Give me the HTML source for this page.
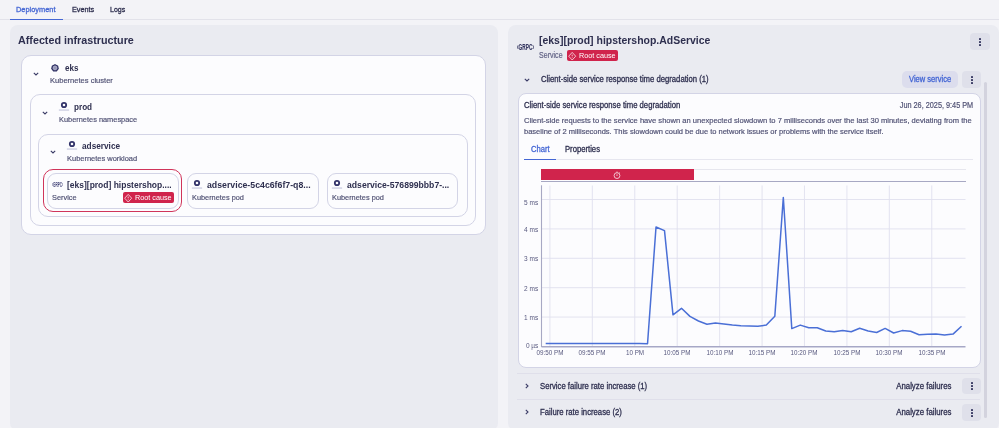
<!DOCTYPE html>
<html><head><meta charset="utf-8"><style>
html,body{margin:0;padding:0;}
body{width:999px;height:428px;overflow:hidden;position:relative;background:#f3f3f7;font-family:"Liberation Sans", sans-serif;-webkit-font-smoothing:antialiased;}
#root{position:absolute;left:0;top:0;width:999px;height:428px;will-change:transform;}
</style></head><body><div id="root">
<div style="position:absolute;top:5.70px;font-size:7.558px;line-height:7.558px;color:#4466d4;font-weight:400;white-space:nowrap;-webkit-text-stroke:0.3px #4466d4;left:16px;transform:scaleX(0.9794256109922287);transform-origin:left center;">Deployment</div>
<div style="position:absolute;top:5.70px;font-size:7.558px;line-height:7.558px;color:#2e2f4f;font-weight:400;white-space:nowrap;-webkit-text-stroke:0.3px #2e2f4f;left:72px;transform:scaleX(0.9650901485308109);transform-origin:left center;">Events</div>
<div style="position:absolute;top:5.70px;font-size:7.558px;line-height:7.558px;color:#2e2f4f;font-weight:400;white-space:nowrap;-webkit-text-stroke:0.3px #2e2f4f;left:110px;transform:scaleX(0.9273645296989917);transform-origin:left center;">Logs</div>
<div style="position:absolute;left:0px;top:19px;width:999px;height:1px;background:#e2e2ea"></div>
<div style="position:absolute;left:9.5px;top:19px;width:53.7px;height:1.3px;background:#4466d4"></div>
<div style="position:absolute;left:9.5px;top:25px;width:488.9px;height:406px;background:#eaebf1;border-radius:8px"></div>
<div style="position:absolute;top:35.05px;font-size:11.047px;line-height:11.047px;color:#2e2f4f;font-weight:700;white-space:nowrap;left:18px;transform:scaleX(0.9741377403154798);transform-origin:left center;">Affected infrastructure</div>
<div style="position:absolute;left:21.1px;top:55.4px;width:465.4px;height:179.2px;box-sizing:border-box;background:#fcfcfe;border:1px solid #d3d4e6;border-radius:10px"></div>
<svg style="position:absolute;left:33px;top:71.5px" width="6" height="4" viewBox="0 0 6 4"><path d="M0.8 0.8 L3 3 L5.2 0.8" fill="none" stroke="#3a3b66" stroke-width="1.1"/></svg>
<svg style="position:absolute;left:50.45px;top:62.900000000000006px" width="10" height="10" viewBox="0 0 10 10"><polygon points="5.00,1.75 7.54,2.97 8.17,5.72 6.41,7.93 3.59,7.93 1.83,5.72 2.46,2.97" fill="#a4a5c2" stroke="#2d2e62" stroke-width="1.3" stroke-linejoin="round"/><circle cx="5" cy="5" r="0.9" fill="#8f90b2"/></svg>
<div style="position:absolute;top:64.12px;font-size:8.721px;line-height:8.721px;color:#2e2f4f;font-weight:700;white-space:nowrap;left:65px;transform:scaleX(0.920855261104348);transform-origin:left center;">eks</div>
<div style="position:absolute;top:76.98px;font-size:7.703px;line-height:7.703px;color:#4f5073;font-weight:400;white-space:nowrap;-webkit-text-stroke:0.18px #4f5073;left:50px;transform:scaleX(0.9808279993310325);transform-origin:left center;">Kubernetes cluster</div>
<div style="position:absolute;left:30.3px;top:94.4px;width:446.2px;height:131.6px;box-sizing:border-box;background:#fcfcfe;border:1px solid #d3d4e6;border-radius:10px"></div>
<svg style="position:absolute;left:41.5px;top:110.5px" width="6" height="4" viewBox="0 0 6 4"><path d="M0.8 0.8 L3 3 L5.2 0.8" fill="none" stroke="#3a3b66" stroke-width="1.1"/></svg>
<svg style="position:absolute;left:57.9px;top:100.7px" width="12" height="10" viewBox="0 0 12 10"><circle cx="6" cy="4" r="2.2" fill="none" stroke="#33346a" stroke-width="1.8"/><rect x="0.85" y="8.4" width="10.3" height="1.3" fill="#cbcce0"/></svg>
<div style="position:absolute;top:102.52px;font-size:8.721px;line-height:8.721px;color:#2e2f4f;font-weight:700;white-space:nowrap;left:73.5px;transform:scaleX(0.9341716482640597);transform-origin:left center;">prod</div>
<div style="position:absolute;top:115.98px;font-size:7.703px;line-height:7.703px;color:#4f5073;font-weight:400;white-space:nowrap;-webkit-text-stroke:0.18px #4f5073;left:58.5px;transform:scaleX(0.9622936250976889);transform-origin:left center;">Kubernetes namespace</div>
<div style="position:absolute;left:38.4px;top:133.8px;width:429.20000000000005px;height:83.6px;box-sizing:border-box;background:#fcfcfe;border:1px solid #d3d4e6;border-radius:10px"></div>
<svg style="position:absolute;left:50px;top:150px" width="6" height="4" viewBox="0 0 6 4"><path d="M0.8 0.8 L3 3 L5.2 0.8" fill="none" stroke="#3a3b66" stroke-width="1.1"/></svg>
<svg style="position:absolute;left:66.1px;top:139.8px" width="12" height="10" viewBox="0 0 12 10"><circle cx="6" cy="4" r="2.2" fill="none" stroke="#33346a" stroke-width="1.8"/><rect x="0.85" y="8.4" width="10.3" height="1.3" fill="#cbcce0"/></svg>
<div style="position:absolute;top:142.32px;font-size:8.721px;line-height:8.721px;color:#2e2f4f;font-weight:700;white-space:nowrap;left:81.7px;transform:scaleX(0.9466842728965632);transform-origin:left center;">adservice</div>
<div style="position:absolute;top:154.98px;font-size:7.703px;line-height:7.703px;color:#4f5073;font-weight:400;white-space:nowrap;-webkit-text-stroke:0.18px #4f5073;left:67px;transform:scaleX(0.971388098693759);transform-origin:left center;">Kubernetes workload</div>
<div style="position:absolute;left:43px;top:169px;width:139.3px;height:43.4px;box-sizing:border-box;border:1.7px solid #d0345a;border-radius:10px"></div>
<div style="position:absolute;left:46.6px;top:172.7px;width:132.4px;height:36.20000000000002px;box-sizing:border-box;background:#fcfcfe;border:1px solid #d3d4e6;border-radius:9px"></div>
<svg style="position:absolute;left:51.8px;top:180.9px;overflow:visible" width="11.1" height="6.9" viewBox="0 0 11.1 6.9"><text x="0" y="5.9" font-family="Liberation Sans" font-weight="700" font-size="6.62" fill="#45467a" stroke="#45467a" stroke-width="0" textLength="11.1" lengthAdjust="spacingAndGlyphs">&#8249;GRPC&#8250;</text></svg>
<div style="position:absolute;top:181.12px;font-size:8.721px;line-height:8.721px;color:#2e2f4f;font-weight:700;white-space:nowrap;left:67px;transform:scaleX(0.9733694798449415);transform-origin:left center;">[eks][prod] hipstershop....</div>
<div style="position:absolute;top:193.98px;font-size:7.703px;line-height:7.703px;color:#4f5073;font-weight:400;white-space:nowrap;-webkit-text-stroke:0.18px #4f5073;left:51.8px;transform:scaleX(0.9576633868901477);transform-origin:left center;">Service</div>
<div style="position:absolute;left:123px;top:192.2px;width:51px;height:10.7px;background:#d0244c;border-radius:2px"></div>
<svg style="position:absolute;left:124.2px;top:193.7px" width="9" height="9" viewBox="0 0 9 9"><path d="M4.2 0.4 L7.7 4.2 L4.2 8.0 L0.7 4.2 Z" fill="none" stroke="#fbe9ee" stroke-width="0.8"/><path d="M4.2 2.6 V4.4" stroke="#fbe9ee" stroke-width="0.8"/><circle cx="4.2" cy="5.4" r="0.45" fill="#fbe9ee"/></svg>
<div style="position:absolute;top:194.77px;font-size:7.122px;line-height:7.122px;color:#ffffff;font-weight:400;white-space:nowrap;left:135px;transform:scaleX(1.0186585139074935);transform-origin:left center;">Root cause</div>
<div style="position:absolute;left:187px;top:172.9px;width:131.5px;height:35.69999999999999px;box-sizing:border-box;background:#fcfcfe;border:1px solid #d3d4e6;border-radius:9px"></div>
<svg style="position:absolute;left:191.05px;top:178.9px" width="12" height="10" viewBox="0 0 12 10"><circle cx="6" cy="4" r="2.2" fill="none" stroke="#33346a" stroke-width="1.8"/><rect x="0.85" y="8.4" width="10.3" height="1.3" fill="#cbcce0"/></svg>
<div style="position:absolute;top:180.82px;font-size:8.721px;line-height:8.721px;color:#2e2f4f;font-weight:700;white-space:nowrap;left:207px;transform:scaleX(1.003293612566366);transform-origin:left center;">adservice-5c4c6f6f7-q8...</div>
<div style="position:absolute;top:193.88px;font-size:7.703px;line-height:7.703px;color:#4f5073;font-weight:400;white-space:nowrap;-webkit-text-stroke:0.18px #4f5073;left:192px;transform:scaleX(0.9559692758994005);transform-origin:left center;">Kubernetes pod</div>
<div style="position:absolute;left:327px;top:172.9px;width:131.39999999999998px;height:35.69999999999999px;box-sizing:border-box;background:#fcfcfe;border:1px solid #d3d4e6;border-radius:9px"></div>
<svg style="position:absolute;left:331.05px;top:178.9px" width="12" height="10" viewBox="0 0 12 10"><circle cx="6" cy="4" r="2.2" fill="none" stroke="#33346a" stroke-width="1.8"/><rect x="0.85" y="8.4" width="10.3" height="1.3" fill="#cbcce0"/></svg>
<div style="position:absolute;top:180.82px;font-size:8.721px;line-height:8.721px;color:#2e2f4f;font-weight:700;white-space:nowrap;left:347px;transform:scaleX(0.9907563180468492);transform-origin:left center;">adservice-576899bbb7-...</div>
<div style="position:absolute;top:193.88px;font-size:7.703px;line-height:7.703px;color:#4f5073;font-weight:400;white-space:nowrap;-webkit-text-stroke:0.18px #4f5073;left:332px;transform:scaleX(0.9559692758994005);transform-origin:left center;">Kubernetes pod</div>
<div style="position:absolute;left:508.4px;top:25px;width:490.2px;height:406px;background:#eaebf1;border-radius:8px"></div>
<svg style="position:absolute;left:516.8px;top:41.7px;overflow:visible" width="17" height="8.5" viewBox="0 0 17 8.5"><text x="0" y="7.5" font-family="Liberation Sans" font-weight="700" font-size="8.78" fill="#34355f" stroke="#34355f" stroke-width="0.15" textLength="17" lengthAdjust="spacingAndGlyphs">&#8249;GRPC&#8250;</text></svg>
<div style="position:absolute;top:35.20px;font-size:10.756px;line-height:10.756px;color:#2e2f4f;font-weight:700;white-space:nowrap;left:538.5px;transform:scaleX(0.9727112299603005);transform-origin:left center;">[eks][prod] hipstershop.AdService</div>
<div style="position:absolute;top:51.61px;font-size:8.140px;line-height:8.140px;color:#626386;font-weight:400;white-space:nowrap;-webkit-text-stroke:0.18px #626386;left:538.5px;transform:scaleX(0.869516089084057);transform-origin:left center;">Service</div>
<div style="position:absolute;left:566.8px;top:50.1px;width:51px;height:10.7px;background:#d0244c;border-radius:2px"></div>
<svg style="position:absolute;left:568.0px;top:51.6px" width="9" height="9" viewBox="0 0 9 9"><path d="M4.2 0.4 L7.7 4.2 L4.2 8.0 L0.7 4.2 Z" fill="none" stroke="#fbe9ee" stroke-width="0.8"/><path d="M4.2 2.6 V4.4" stroke="#fbe9ee" stroke-width="0.8"/><circle cx="4.2" cy="5.4" r="0.45" fill="#fbe9ee"/></svg>
<div style="position:absolute;top:52.67px;font-size:7.122px;line-height:7.122px;color:#ffffff;font-weight:400;white-space:nowrap;left:578.8px;transform:scaleX(1.0186585139074935);transform-origin:left center;">Root cause</div>
<div style="position:absolute;left:970.3px;top:33px;width:19.5px;height:17px;background:#dfe0ea;border-radius:4px"></div>
<div style="position:absolute;left:978.95px;top:37.95px;width:1.6px;height:1.6px;background:#33345f;border-radius:0.4px"></div>
<div style="position:absolute;left:978.95px;top:40.95px;width:1.6px;height:1.6px;background:#33345f;border-radius:0.4px"></div>
<div style="position:absolute;left:978.95px;top:43.95px;width:1.6px;height:1.6px;background:#33345f;border-radius:0.4px"></div>
<svg style="position:absolute;left:523.5px;top:77.8px" width="6" height="4" viewBox="0 0 6 4"><path d="M0.8 0.8 L3 3 L5.2 0.8" fill="none" stroke="#3a3b66" stroke-width="1.1"/></svg>
<div style="position:absolute;top:76.49px;font-size:8.285px;line-height:8.285px;color:#2e2f4f;font-weight:400;white-space:nowrap;-webkit-text-stroke:0.3px #2e2f4f;left:540.6px;transform:scaleX(0.9306856251670165);transform-origin:left center;">Client-side service response time degradation (1)</div>
<div style="position:absolute;left:902px;top:70.8px;width:56px;height:17.3px;background:#dcdded;border-radius:5px"></div>
<div style="position:absolute;top:75.69px;font-size:8.285px;line-height:8.285px;color:#4466d4;font-weight:400;white-space:nowrap;-webkit-text-stroke:0.3px #4466d4;left:908.8px;transform:scaleX(0.91041220500353);transform-origin:left center;">View service</div>
<div style="position:absolute;left:962px;top:71.3px;width:19px;height:16.8px;background:#dfe0ea;border-radius:4px"></div>
<div style="position:absolute;left:970.95px;top:75.95px;width:1.6px;height:1.6px;background:#33345f;border-radius:0.4px"></div>
<div style="position:absolute;left:970.95px;top:78.95px;width:1.6px;height:1.6px;background:#33345f;border-radius:0.4px"></div>
<div style="position:absolute;left:970.95px;top:81.95px;width:1.6px;height:1.6px;background:#33345f;border-radius:0.4px"></div>
<div style="position:absolute;left:984px;top:82px;width:2.8px;height:336px;background:#d3d3de;border-radius:2px"></div>
<div style="position:absolute;left:517.5px;top:92.8px;width:463.0px;height:275.59999999999997px;box-sizing:border-box;background:#fcfcfe;border:1px solid #d3d4e6;border-radius:8px"></div>
<div style="position:absolute;top:101.16px;font-size:8.430px;line-height:8.430px;color:#2e2f4f;font-weight:400;white-space:nowrap;-webkit-text-stroke:0.3px #2e2f4f;left:524.3px;transform:scaleX(0.9144401398388942);transform-origin:left center;">Client-side service response time degradation</div>
<div style="position:absolute;top:101.79px;font-size:8.285px;line-height:8.285px;color:#4f5073;font-weight:400;white-space:nowrap;-webkit-text-stroke:0.18px #4f5073;right:25.399999999999977px;transform:scaleX(0.882847117794486);transform-origin:right center;">Jun 26, 2025, 9:45 PM</div>
<div style="position:absolute;top:116.90px;font-size:7.558px;line-height:7.558px;color:#4f5073;font-weight:400;white-space:nowrap;-webkit-text-stroke:0.18px #4f5073;left:524.3px;transform:scaleX(1.0010063844784656);transform-origin:left center;">Client-side requests to the service have shown an unexpected slowdown to 7 milliseconds over the last 30 minutes, deviating from the</div>
<div style="position:absolute;top:127.70px;font-size:7.558px;line-height:7.558px;color:#4f5073;font-weight:400;white-space:nowrap;-webkit-text-stroke:0.18px #4f5073;left:524.3px;transform:scaleX(0.9956687224678457);transform-origin:left center;">baseline of 2 milliseconds. This slowdown could be due to network issues or problems with the service itself.</div>
<div style="position:absolute;top:145.16px;font-size:8.430px;line-height:8.430px;color:#4466d4;font-weight:400;white-space:nowrap;-webkit-text-stroke:0.3px #4466d4;left:530.8px;transform:scaleX(0.9022752010576182);transform-origin:left center;">Chart</div>
<div style="position:absolute;top:145.16px;font-size:8.430px;line-height:8.430px;color:#2e2f4f;font-weight:400;white-space:nowrap;-webkit-text-stroke:0.3px #2e2f4f;left:564.9px;transform:scaleX(0.9109340218299777);transform-origin:left center;">Properties</div>
<div style="position:absolute;left:524px;top:159px;width:449px;height:1px;background:#e6e6ef"></div>
<div style="position:absolute;left:523.8px;top:158.6px;width:32px;height:1.3px;background:#4466d4"></div>
<div style="position:absolute;left:541px;top:168.6px;width:425px;height:0.8px;background:#e6e6ee"></div>
<div style="position:absolute;left:541px;top:169.4px;width:153px;height:11px;background:#d0244c"></div>
<div style="position:absolute;left:541px;top:180.8px;width:425px;height:1.2px;background:#a7a8c3"></div>
<svg style="position:absolute;left:613.4px;top:171px" width="9" height="9" viewBox="0 0 9 9"><circle cx="4" cy="4.6" r="2.9" fill="none" stroke="#f6dbe2" stroke-width="0.85"/><path d="M4 0.5 V1.7 M6.2 2.2 L7.0 1.4 M4 3.3 V5.0" stroke="#f6dbe2" stroke-width="0.85"/></svg>
<svg style="position:absolute;left:0;top:0" width="999" height="428" viewBox="0 0 999 428"><line x1="541.5" y1="317.1" x2="965.5" y2="317.1" stroke="#e0e0ee" stroke-width="0.9"/><line x1="541.5" y1="287.7" x2="965.5" y2="287.7" stroke="#e0e0ee" stroke-width="0.9"/><line x1="541.5" y1="258.3" x2="965.5" y2="258.3" stroke="#e0e0ee" stroke-width="0.9"/><line x1="541.5" y1="228.9" x2="965.5" y2="228.9" stroke="#e0e0ee" stroke-width="0.9"/><line x1="541.5" y1="199.5" x2="965.5" y2="199.5" stroke="#e0e0ee" stroke-width="0.9"/><line x1="549.90" y1="185.5" x2="549.90" y2="346" stroke="#e0e0ee" stroke-width="0.9"/><line x1="592.33" y1="185.5" x2="592.33" y2="346" stroke="#e0e0ee" stroke-width="0.9"/><line x1="634.76" y1="185.5" x2="634.76" y2="346" stroke="#e0e0ee" stroke-width="0.9"/><line x1="677.19" y1="185.5" x2="677.19" y2="346" stroke="#e0e0ee" stroke-width="0.9"/><line x1="719.62" y1="185.5" x2="719.62" y2="346" stroke="#e0e0ee" stroke-width="0.9"/><line x1="762.05" y1="185.5" x2="762.05" y2="346" stroke="#e0e0ee" stroke-width="0.9"/><line x1="804.48" y1="185.5" x2="804.48" y2="346" stroke="#e0e0ee" stroke-width="0.9"/><line x1="846.91" y1="185.5" x2="846.91" y2="346" stroke="#e0e0ee" stroke-width="0.9"/><line x1="889.34" y1="185.5" x2="889.34" y2="346" stroke="#e0e0ee" stroke-width="0.9"/><line x1="931.77" y1="185.5" x2="931.77" y2="346" stroke="#e0e0ee" stroke-width="0.9"/><line x1="541.5" y1="185.3" x2="541.5" y2="347" stroke="#a7a8c3" stroke-width="1.1"/><line x1="541.5" y1="346.8" x2="965.5" y2="346.8" stroke="#a6a7c6" stroke-width="1.4"/><polyline points="545.70,343.6 554.19,343.5 562.67,343.4 571.16,343.5 579.64,343.6 588.13,343.5 596.62,343.6 605.10,343.5 613.59,343.4 622.07,343.5 630.56,343.6 639.05,343.5 647.53,343.7 656.02,227.0 664.50,230.6 672.99,314.8 681.48,308.3 689.96,316.4 698.45,321.0 706.93,324.2 715.42,323.1 723.91,324.0 732.39,325.1 740.88,325.7 749.36,325.9 757.85,326.2 766.34,325.1 774.82,316.2 783.31,197.5 791.79,328.6 800.28,325.1 808.77,327.7 817.25,327.7 825.74,331.0 834.22,331.8 842.71,330.4 851.20,331.8 859.68,328.3 868.17,331.0 876.65,332.5 885.14,328.4 893.63,333.0 902.11,330.6 910.60,331.3 919.08,334.8 927.57,334.2 936.06,334.1 944.54,335.0 953.03,334.1 961.51,326.3" fill="none" stroke="#4a6fd6" stroke-width="1.5" stroke-linejoin="round"/></svg>
<div style="position:absolute;top:341.67px;font-size:7.000px;line-height:7.000px;color:#57587e;font-weight:400;white-space:nowrap;right:461px;transform:scaleX(0.93);transform-origin:right center;">0 &micro;s</div>
<div style="position:absolute;top:314.12px;font-size:7.000px;line-height:7.000px;color:#57587e;font-weight:400;white-space:nowrap;right:461px;transform:scaleX(0.93);transform-origin:right center;">1 ms</div>
<div style="position:absolute;top:284.72px;font-size:7.000px;line-height:7.000px;color:#57587e;font-weight:400;white-space:nowrap;right:461px;transform:scaleX(0.93);transform-origin:right center;">2 ms</div>
<div style="position:absolute;top:255.32px;font-size:7.000px;line-height:7.000px;color:#57587e;font-weight:400;white-space:nowrap;right:461px;transform:scaleX(0.93);transform-origin:right center;">3 ms</div>
<div style="position:absolute;top:225.92px;font-size:7.000px;line-height:7.000px;color:#57587e;font-weight:400;white-space:nowrap;right:461px;transform:scaleX(0.93);transform-origin:right center;">4 ms</div>
<div style="position:absolute;top:198.87px;font-size:7.000px;line-height:7.000px;color:#57587e;font-weight:400;white-space:nowrap;right:461px;transform:scaleX(0.93);transform-origin:right center;">5 ms</div>
<div style="position:absolute;top:348.87px;font-size:7.000px;line-height:7.000px;color:#57587e;font-weight:400;white-space:nowrap;left:449.9px;width:200px;text-align:center;transform:scaleX(0.9);transform-origin:center center;">09:50 PM</div>
<div style="position:absolute;top:348.87px;font-size:7.000px;line-height:7.000px;color:#57587e;font-weight:400;white-space:nowrap;left:492.3299999999999px;width:200px;text-align:center;transform:scaleX(0.9);transform-origin:center center;">09:55 PM</div>
<div style="position:absolute;top:348.87px;font-size:7.000px;line-height:7.000px;color:#57587e;font-weight:400;white-space:nowrap;left:534.76px;width:200px;text-align:center;transform:scaleX(0.9);transform-origin:center center;">10 PM</div>
<div style="position:absolute;top:348.87px;font-size:7.000px;line-height:7.000px;color:#57587e;font-weight:400;white-space:nowrap;left:577.1899999999999px;width:200px;text-align:center;transform:scaleX(0.9);transform-origin:center center;">10:05 PM</div>
<div style="position:absolute;top:348.87px;font-size:7.000px;line-height:7.000px;color:#57587e;font-weight:400;white-space:nowrap;left:619.62px;width:200px;text-align:center;transform:scaleX(0.9);transform-origin:center center;">10:10 PM</div>
<div style="position:absolute;top:348.87px;font-size:7.000px;line-height:7.000px;color:#57587e;font-weight:400;white-space:nowrap;left:662.05px;width:200px;text-align:center;transform:scaleX(0.9);transform-origin:center center;">10:15 PM</div>
<div style="position:absolute;top:348.87px;font-size:7.000px;line-height:7.000px;color:#57587e;font-weight:400;white-space:nowrap;left:704.48px;width:200px;text-align:center;transform:scaleX(0.9);transform-origin:center center;">10:20 PM</div>
<div style="position:absolute;top:348.87px;font-size:7.000px;line-height:7.000px;color:#57587e;font-weight:400;white-space:nowrap;left:746.91px;width:200px;text-align:center;transform:scaleX(0.9);transform-origin:center center;">10:25 PM</div>
<div style="position:absolute;top:348.87px;font-size:7.000px;line-height:7.000px;color:#57587e;font-weight:400;white-space:nowrap;left:789.3399999999999px;width:200px;text-align:center;transform:scaleX(0.9);transform-origin:center center;">10:30 PM</div>
<div style="position:absolute;top:348.87px;font-size:7.000px;line-height:7.000px;color:#57587e;font-weight:400;white-space:nowrap;left:831.77px;width:200px;text-align:center;transform:scaleX(0.9);transform-origin:center center;">10:35 PM</div>
<div style="position:absolute;left:517px;top:372.5px;width:463px;height:1px;background:#dfdfea"></div>
<svg style="position:absolute;left:524.5px;top:383.2px" width="4" height="6" viewBox="0 0 4 6"><path d="M0.8 0.8 L3 3 L0.8 5.2" fill="none" stroke="#3a3b66" stroke-width="1.1"/></svg>
<div style="position:absolute;top:381.54px;font-size:8.576px;line-height:8.576px;color:#2e2f4f;font-weight:400;white-space:nowrap;-webkit-text-stroke:0.3px #2e2f4f;left:540.3px;transform:scaleX(0.9005176901121207);transform-origin:left center;">Service failure rate increase (1)</div>
<div style="position:absolute;top:381.96px;font-size:8.430px;line-height:8.430px;color:#2e2f4f;font-weight:400;white-space:nowrap;-webkit-text-stroke:0.3px #2e2f4f;right:47.799999999999955px;transform:scaleX(0.9292422249885703);transform-origin:right center;">Analyze failures</div>
<div style="position:absolute;left:962px;top:378px;width:19px;height:16.3px;background:#dfe0ea;border-radius:4px"></div>
<div style="position:absolute;left:970.95px;top:381.95px;width:1.6px;height:1.6px;background:#33345f;border-radius:0.4px"></div>
<div style="position:absolute;left:970.95px;top:384.95px;width:1.6px;height:1.6px;background:#33345f;border-radius:0.4px"></div>
<div style="position:absolute;left:970.95px;top:387.95px;width:1.6px;height:1.6px;background:#33345f;border-radius:0.4px"></div>
<div style="position:absolute;left:517px;top:398.6px;width:463px;height:1px;background:#dfdfea"></div>
<svg style="position:absolute;left:524.5px;top:409.2px" width="4" height="6" viewBox="0 0 4 6"><path d="M0.8 0.8 L3 3 L0.8 5.2" fill="none" stroke="#3a3b66" stroke-width="1.1"/></svg>
<div style="position:absolute;top:407.84px;font-size:8.576px;line-height:8.576px;color:#2e2f4f;font-weight:400;white-space:nowrap;-webkit-text-stroke:0.3px #2e2f4f;left:540.3px;transform:scaleX(0.9007774286725033);transform-origin:left center;">Failure rate increase (2)</div>
<div style="position:absolute;top:407.96px;font-size:8.430px;line-height:8.430px;color:#2e2f4f;font-weight:400;white-space:nowrap;-webkit-text-stroke:0.3px #2e2f4f;right:47.799999999999955px;transform:scaleX(0.9292422249885703);transform-origin:right center;">Analyze failures</div>
<div style="position:absolute;left:962px;top:404.2px;width:19px;height:16.5px;background:#dfe0ea;border-radius:4px"></div>
<div style="position:absolute;left:970.95px;top:408.95px;width:1.6px;height:1.6px;background:#33345f;border-radius:0.4px"></div>
<div style="position:absolute;left:970.95px;top:411.95px;width:1.6px;height:1.6px;background:#33345f;border-radius:0.4px"></div>
<div style="position:absolute;left:970.95px;top:414.95px;width:1.6px;height:1.6px;background:#33345f;border-radius:0.4px"></div>
</div></body></html>
